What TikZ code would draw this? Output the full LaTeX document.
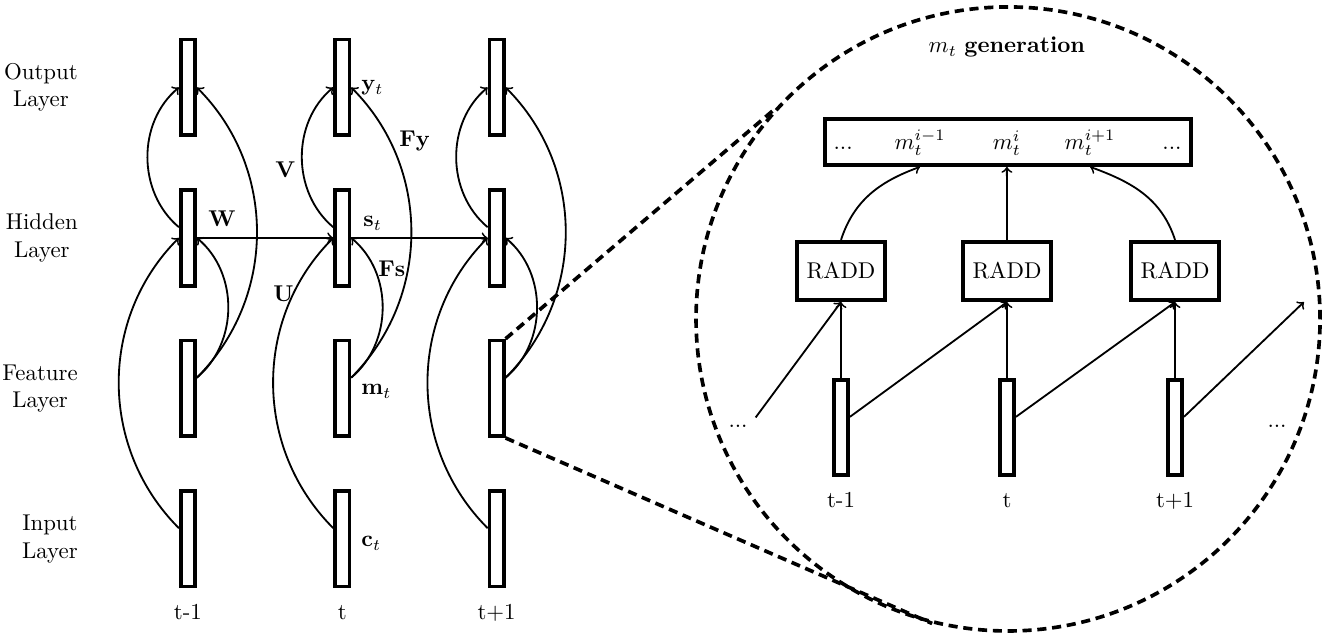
\documentclass[tikz,border=0pt]{standalone}
\begin{document}
\begin{tikzpicture}[
    vecbar/.style={draw, line width=1.6pt, minimum width=0.22cm, minimum height=1.47cm, inner sep=0pt},
    raddbox/.style={draw, line width=1.6pt, minimum width=1.36cm, minimum height=0.9cm},
    layername/.style={align=center, anchor=east},
    wlabel/.style={anchor=base west, inner sep=0pt},
    timelabel/.style={anchor=base},
    conn/.style={->, thick},
    zoomline/.style={line width=1.6pt, dash pattern=on 4pt off 2.5pt}
]
        \useasboundingbox (0, 0) rectangle (20.43, 9.815);

        % Layer names
        \node[layername] (lo) at (1.32, 8.47) {Output\\Layer};
        \node[layername] (lh) at (1.32, 6.155) {Hidden\\Layer};
        \node[layername] (lf) at (1.32, 3.84) {Feature\\Layer};
        \node[layername] (li) at (1.32, 1.525) {Input\\Layer};

        % Draw the vectors of the three time steps
        \node[vecbar] (o1) at (2.89, 8.47) {};
        \node[vecbar] (h1) at (2.89, 6.155) {};
        \node[vecbar] (f1) at (2.89, 3.84) {};
        \node[vecbar] (i1) at (2.89, 1.525) {};
        \node[timelabel] (t1) at (2.89, 0.277) {t-1};

        \node[vecbar] (o2) at (5.265, 8.47) {};
        \node[vecbar] (h2) at (5.265, 6.155) {};
        \node[vecbar] (f2) at (5.265, 3.84) {};
        \node[vecbar] (i2) at (5.265, 1.525) {};
        \node[timelabel] (t2) at (5.265, 0.277) {t};

        \node[vecbar] (o3) at (7.64, 8.47) {};
        \node[vecbar] (h3) at (7.64, 6.155) {};
        \node[vecbar] (f3) at (7.64, 3.84) {};
        \node[vecbar] (i3) at (7.64, 1.525) {};
        \node[timelabel] (t3) at (7.64, 0.277) {t+1};

        % Draw the connections of each time step
        \draw[conn] (h1.130) to [bend left=50] (o1.west);
        \draw[conn] (i1.130) to [bend left=45] (h1.west);
        \draw[conn] (f1.50) to [bend right=50] (h1.east);
        \draw[conn] (f1.50) to [bend right=45] (o1.east);

        \draw[conn] (h2.130) to [bend left=50] (o2.west);
        \draw[conn] (i2.130) to [bend left=45] (h2.west);
        \draw[conn] (f2.50) to [bend right=50] (h2.east);
        \draw[conn] (f2.50) to [bend right=45] (o2.east);

        \draw[conn] (h3.130) to [bend left=50] (o3.west);
        \draw[conn] (i3.130) to [bend left=45] (h3.west);
        \draw[conn] (f3.50) to [bend right=50] (h3.east);
        \draw[conn] (f3.50) to [bend right=45] (o3.east);

        % Recurrent connections
        \draw[conn] (h1.east) -- (h2.west);
        \draw[conn] (h2.east) -- (h3.west);

        % Add the weight and vector names
        \node[wlabel] (lw) at (3.2, 6.323) {$\mathbf{W}$};
        \node[wlabel] (lv) at (4.23, 7.09) {$\mathbf{V}$};
        \node[wlabel] (lu) at (4.2, 5.17) {$\mathbf{U}$};
        \node[wlabel] (lfy) at (6.138, 7.554) {$\mathbf{Fy}$};
        \node[wlabel] (lfs) at (5.815, 5.554) {$\mathbf{Fs}$};
        \node[wlabel] (ly) at (5.554, 8.415) {$\mathbf{y}_t$};
        \node[wlabel] (ls) at (5.585, 6.323) {$\mathbf{s}_t$};
        \node[wlabel] (lm) at (5.554, 3.74) {$\mathbf{m}_t$};
        \node[wlabel] (lc) at (5.554, 1.40) {$\mathbf{c}_t$};

        % Zoom circle for the feature generation
        \node[draw, circle, zoomline, minimum size=9.6cm] (zoomc) at (15.508, 4.908) {};
        \draw[zoomline] (f3.north east) -- (zoomc.138);
        \draw[zoomline] (f3.south east) -- (zoomc.256);
        \node[anchor=base] (title) at (15.49, 9.0) {$m_t$ \textbf{generation}};

        % Feature vector on top
        \node[draw, line width=1.6pt, minimum width=5.63cm, minimum height=0.71cm] (vec) at (15.508, 7.631) {};
        \node[anchor=base] (vl) at (12.97, 7.508) {...};
        \node[anchor=base] (mprev) at (14.154, 7.508) {$m_t^{i-1}$};
        \node[anchor=base] (mcur) at (15.49, 7.508) {$m_t^{i}$};
        \node[anchor=base] (mnext) at (16.77, 7.508) {$m_t^{i+1}$};
        \node[anchor=base] (vr) at (18.03, 7.508) {...};

        % RADD units
        \node[raddbox] (r1) at (12.938, 5.646) {RADD};
        \node[raddbox] (r2) at (15.492, 5.646) {RADD};
        \node[raddbox] (r3) at (18.077, 5.646) {RADD};

        % Word vectors
        \node[vecbar] (b1) at (12.938, 3.238) {};
        \node[vecbar] (b2) at (15.492, 3.238) {};
        \node[vecbar] (b3) at (18.077, 3.238) {};
        \node[timelabel] (bt1) at (12.938, 2.015) {t-1};
        \node[timelabel] (bt2) at (15.492, 2.015) {t};
        \node[timelabel] (bt3) at (18.077, 2.015) {t+1};
        \node[anchor=base] (ldots) at (11.354, 3.231) {...};
        \node[anchor=base] (rdots) at (19.646, 3.231) {...};
        \coordinate (rend) at (20.06, 5.169);

        % Arrows into the RADD units
        \draw[conn] (ldots.north east) -- (r1.south);
        \draw[conn] (b1.north) -- (r1.south);
        \draw[conn] (b1.50) -- (r2.south);
        \draw[conn] (b2.north) -- (r2.south);
        \draw[conn] (b2.50) -- (r3.south);
        \draw[conn] (b3.north) -- (r3.south);
        \draw[conn] (b3.50) -- (rend);

        % Arrows into the feature vector
        \draw[conn] (r1.north) to [out=72, in=200] (mprev |- vec.south);
        \draw[conn] (r2.north) -- (mcur |- vec.south);
        \draw[conn] (r3.north) to [out=108, in=-20] (mnext |- vec.south);
    \end{tikzpicture}
\end{document}
